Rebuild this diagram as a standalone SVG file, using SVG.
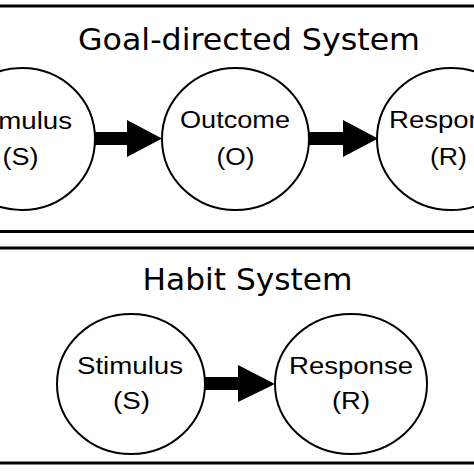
<svg xmlns="http://www.w3.org/2000/svg" width="474" height="474" viewBox="0 0 474 474">
<style>
.bg{fill:#fff}
.rule{stroke:#000;stroke-width:3;fill:none}
.node{fill:#fff;stroke:#000;stroke-width:2}
.lbl{font-family:"Liberation Sans",Arial,sans-serif;font-size:23px;fill:#000;text-anchor:middle}
.title{font-family:"DejaVu Sans","Open Sans",sans-serif;font-size:31px;fill:#000}
.arrow{fill:#000;stroke:none}
</style>
<rect class="bg" x="0" y="0" width="474" height="474"/>
<g id="frames">
<line class="rule" x1="0" y1="6" x2="474" y2="6"/>
<line class="rule" x1="0" y1="231.5" x2="474" y2="231.5"/>
<line class="rule" x1="0" y1="248" x2="474" y2="248"/>
<line class="rule" x1="0" y1="463" x2="474" y2="463"/>
</g>
<text id="title-goal" class="title" x="78" y="50" textLength="342" lengthAdjust="spacingAndGlyphs">Goal-directed System</text>
<text id="title-habit" class="title" x="142.5" y="290" textLength="210" lengthAdjust="spacingAndGlyphs">Habit System</text>
<g id="connectors">
<polygon class="arrow" points="95,132 127,132 127,120 162,138.5 127,157 127,145 95,145"/>
<polygon class="arrow" points="309,132 343,132 343,120 378,138.5 343,157 343,145 309,145"/>
<polygon class="arrow" points="205,377 238,377 238,365 275,384 238,402 238,390 205,390"/>
</g>
<g id="goal-stimulus">
<ellipse class="node" cx="22" cy="139" rx="73" ry="71"/>
<text class="lbl" x="19" y="129" textLength="106" lengthAdjust="spacingAndGlyphs">Stimulus</text>
<text class="lbl" x="20.5" y="165" textLength="36" lengthAdjust="spacingAndGlyphs">(S)</text>
</g>
<g id="goal-outcome">
<ellipse class="node" cx="235.5" cy="139" rx="73.5" ry="71"/>
<text class="lbl" x="235" y="128" textLength="110" lengthAdjust="spacingAndGlyphs">Outcome</text>
<text class="lbl" x="235.5" y="165" textLength="38" lengthAdjust="spacingAndGlyphs">(O)</text>
</g>
<g id="goal-response">
<ellipse class="node" cx="451" cy="139" rx="74" ry="71"/>
<text class="lbl" x="451" y="128" textLength="124" lengthAdjust="spacingAndGlyphs">Response</text>
<text class="lbl" x="448.5" y="165" textLength="37" lengthAdjust="spacingAndGlyphs">(R)</text>
</g>
<g id="habit-stimulus">
<ellipse class="node" cx="131" cy="384" rx="74" ry="70"/>
<text class="lbl" x="130" y="374" textLength="106" lengthAdjust="spacingAndGlyphs">Stimulus</text>
<text class="lbl" x="131.5" y="409" textLength="37" lengthAdjust="spacingAndGlyphs">(S)</text>
</g>
<g id="habit-response">
<ellipse class="node" cx="351" cy="384" rx="76" ry="70"/>
<text class="lbl" x="351" y="374" textLength="124" lengthAdjust="spacingAndGlyphs">Response</text>
<text class="lbl" x="351" y="409" textLength="38" lengthAdjust="spacingAndGlyphs">(R)</text>
</g>
</svg>
